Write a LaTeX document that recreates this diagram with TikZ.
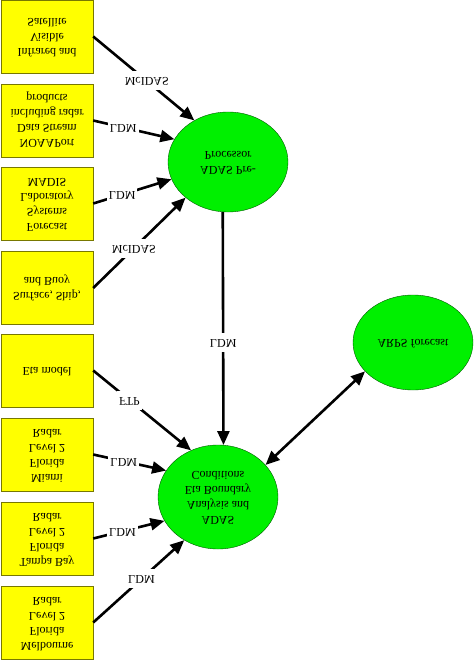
\documentclass[tikz,border=0pt]{standalone}
\usepackage{fontspec}
\setmainfont{Liberation Serif}
\usepackage{graphicx}
\usetikzlibrary{arrows.meta,shapes.geometric}
\definecolor{srcfill}{RGB}{255,255,0}
\definecolor{srcedge}{RGB}{120,120,0}
\definecolor{procfill}{RGB}{0,240,0}
\definecolor{procedge}{RGB}{0,90,0}
% text is printed upside down in the figure
\newcommand{\upside}[1]{\scalebox{1}[-1]{\begin{tabular}{@{}c@{}}#1\end{tabular}}}

\begin{document}
\begin{tikzpicture}[x=1pt, y=-1pt,
  >={Triangle[length=14pt,width=12pt]},
  src/.style={draw=srcedge, fill=srcfill, minimum width=92pt, minimum height=73pt, inner sep=0pt, font=\fontsize{12}{15}\selectfont},
  proc/.style={ellipse, draw=procedge, fill=procfill, inner sep=0pt, font=\fontsize{12}{15}\selectfont},
  feed/.style={->, line width=2.6pt},
  lbl/.style={fill=white, inner sep=2pt, font=\fontsize{12}{15}\selectfont}]
\useasboundingbox (0,0) rectangle (474,660);
% data sources
\node[src] (sat) at (47,36.5) {\upside{Infrared and\\Visible\\Satellite}};
\node[src] (noaa) at (47,120.5) {\upside{NOAAPort\\Data Stream\\including radar\\products}};
\node[src] (fsl) at (47,203.5) {\upside{Forecast\\Systems\\Laboratory\\MADIS}};
\node[src] (sfc) at (47,288) {\upside{Surface, Ship,\\and Buoy}};
\node[src] (eta) at (47,370.5) {\upside{Eta model}};
\node[src] (miami) at (47,454.5) {\upside{Miami\\Florida\\Level 2\\Radar}};
\node[src] (tampa) at (47,538.5) {\upside{Tampa Bay\\Florida\\Level 2\\Radar}};
\node[src] (melb) at (47,622.5) {\upside{Melbourne\\Florida\\Level 2\\Radar}};
% processing
\node[proc, minimum width=120pt, minimum height=100pt] (pre) at (228,162) {\upside{ADAS Pre-\\Processor}};
\node[proc, minimum width=120pt, minimum height=104pt] (ana) at (218,497) {\upside{ADAS\\Analysis and\\Eta Boundary\\Conditions}};
\node[proc, minimum width=120pt, minimum height=95pt] (arps) at (413,342.5) {\upside{ARPS forecast}};
% feeds into the pre-processor
\draw[feed] (sat.east) -- node[lbl, pos=0.53] {\upside{McIDAS}} (pre.129);
\draw[feed] (noaa.east) -- node[lbl, pos=0.37] {\upside{LDM}} (pre.157);
\draw[feed] (fsl.east) -- node[lbl, pos=0.37] {\upside{LDM}} (pre.197);
\draw[feed] (sfc.east) -- node[lbl, pos=0.44] {\upside{McIDAS}} (pre.220);
% feeds into the analysis
\draw[feed] (pre.264) -- node[lbl, pos=0.56] {\upside{LDM}} (ana.84);
\draw[feed] (eta.east) -- node[lbl, pos=0.37] {\upside{FTP}} (ana.120);
\draw[feed] (miami.east) -- node[lbl, pos=0.42] {\upside{LDM}} (ana.153);
\draw[feed] (tampa.east) -- node[lbl, pos=0.41] {\upside{LDM}} (ana.204);
\draw[feed] (melb.east) -- node[lbl, pos=0.53] {\upside{LDM}} (ana.232);
\draw[feed, <->] (ana.34) -- (arps.211);
\end{tikzpicture}
\end{document}
